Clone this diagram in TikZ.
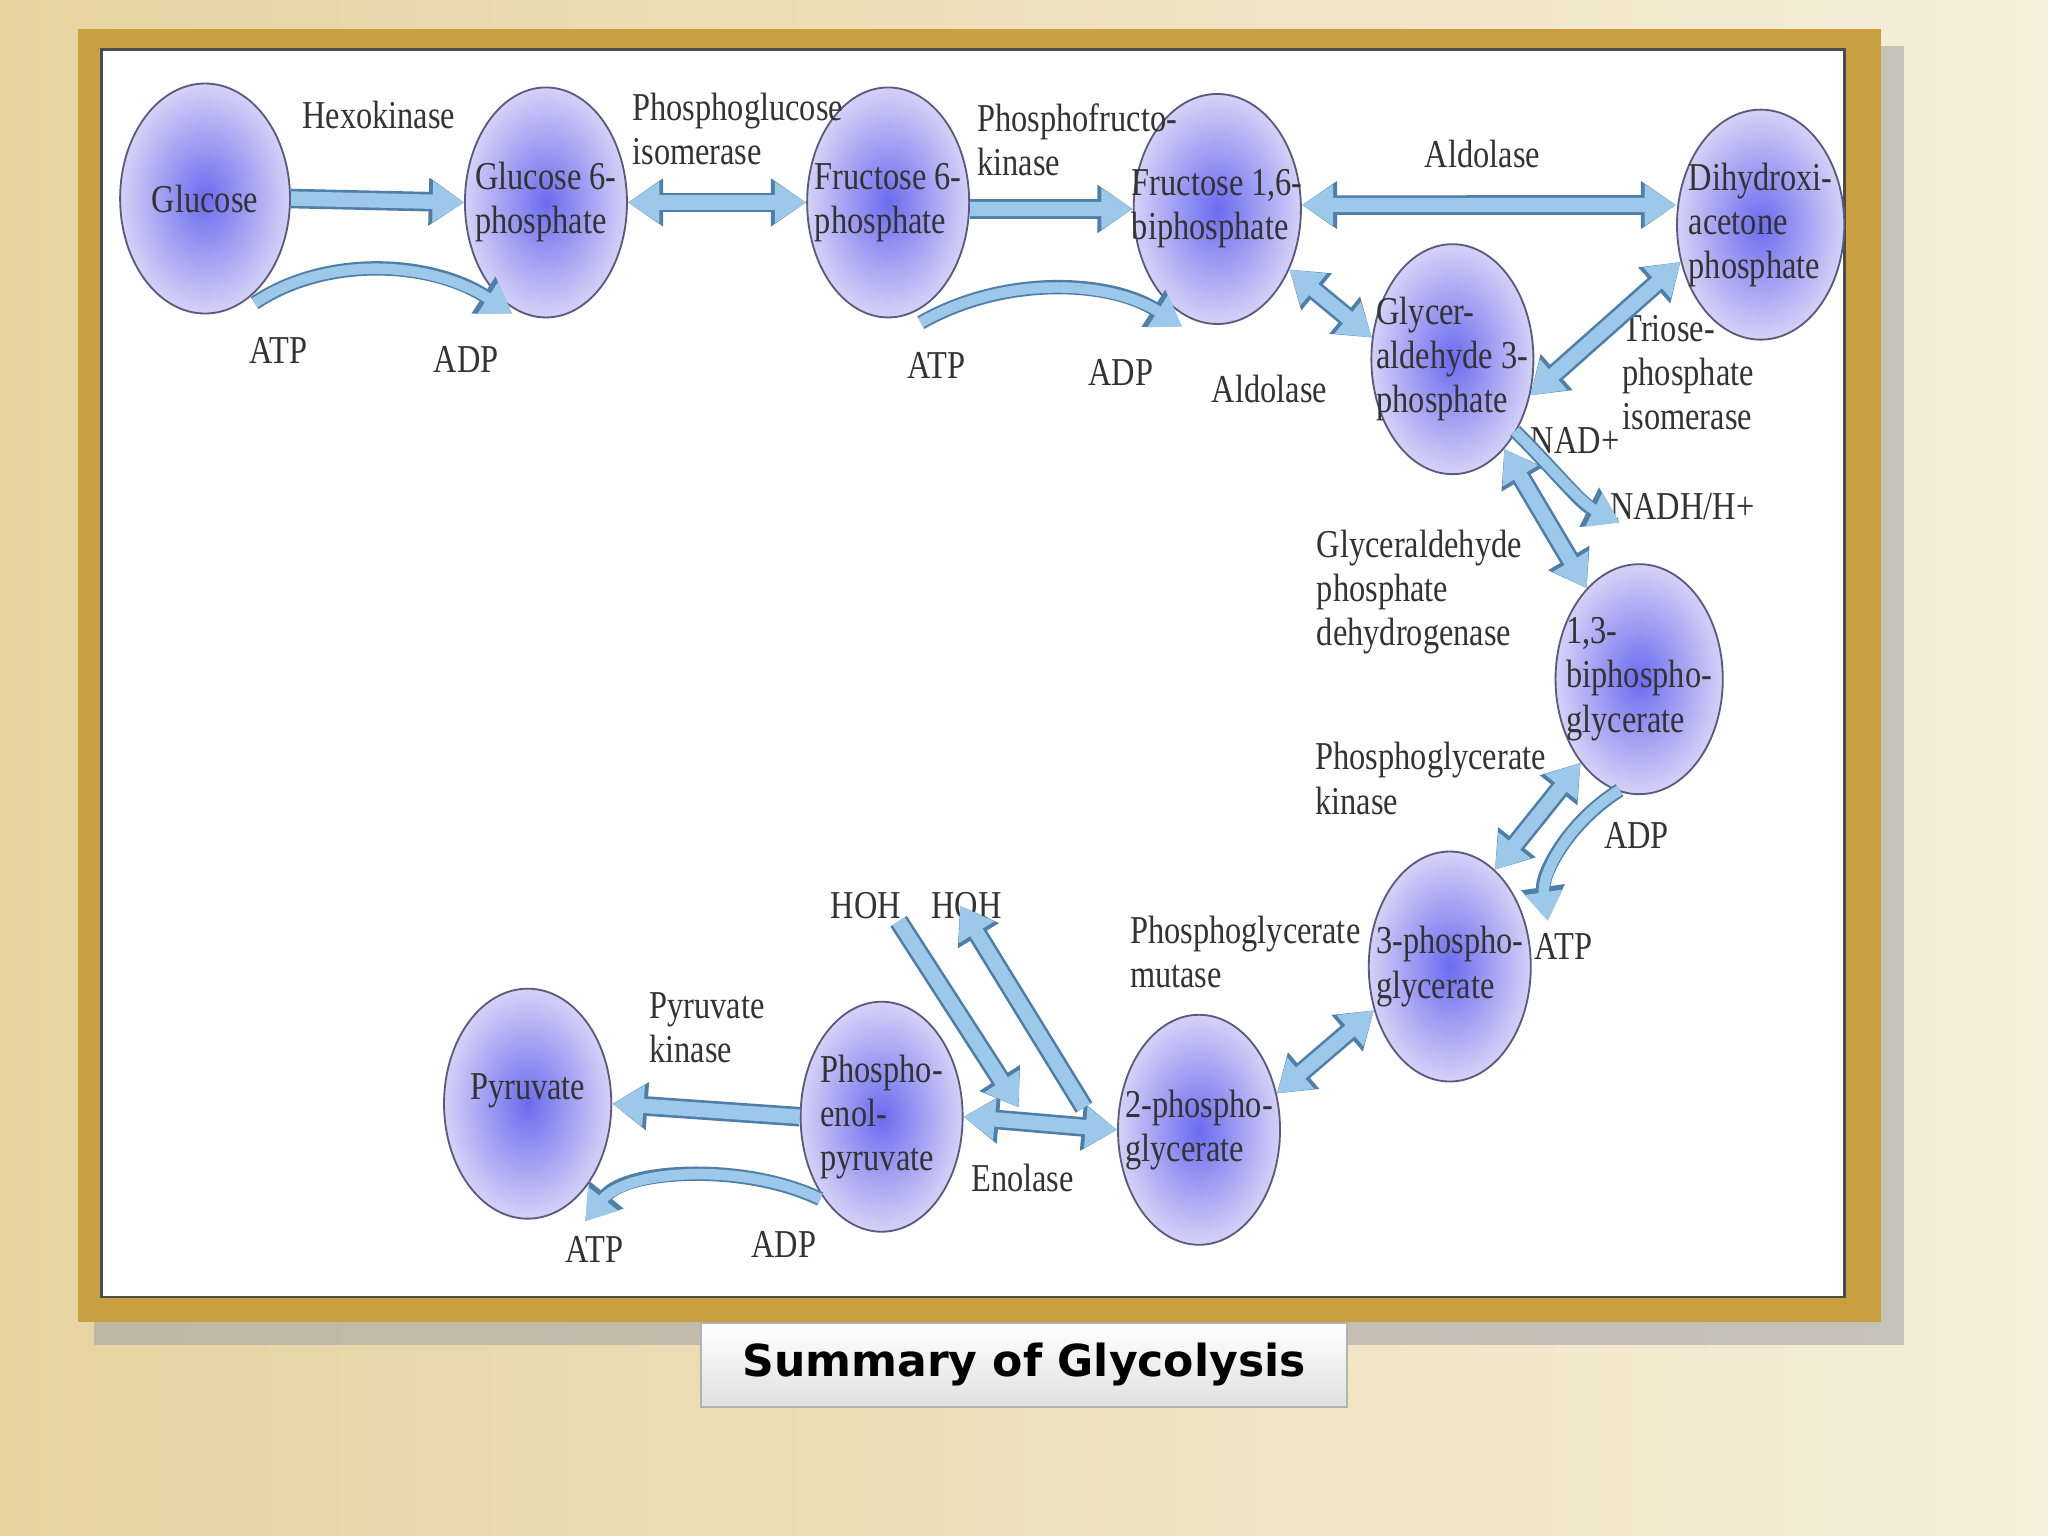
\documentclass[tikz,border=0pt]{standalone}
\usepackage{fontspec}
\setmainfont[FakeStretch=0.82]{Liberation Serif}
\newfontfamily\titlefont{DejaVu Sans}
\usetikzlibrary{shapes.geometric,arrows.meta}
\definecolor{bgA}{HTML}{E6D3A0}
\definecolor{bgB}{HTML}{F6EEDA}
\definecolor{gold}{HTML}{C9A040}
\definecolor{afill}{HTML}{9CC9EA}
\definecolor{aedge}{HTML}{4F7FA8}
\definecolor{nin}{HTML}{6B6BF0}
\definecolor{nout}{HTML}{D4D2F6}
\definecolor{nedge}{HTML}{5A5A80}
\begin{document}
\begin{tikzpicture}[x=0.01cm,y=-0.01cm,
  mol/.style={ellipse,draw=nedge,line width=0.4pt,shading=radial,inner color=nin,outer color=nout,
     minimum width=1.26cm,minimum height=1.76cm,inner sep=0pt},
  mt/.style={font=\fontsize{8.6}{9.6}\selectfont,text=black!80,align=left,inner sep=0pt},
  lab/.style={font=\fontsize{8.6}{9.6}\selectfont,text=black!80,inner sep=1pt,align=left},
  fat/.style={line width=0.11cm,draw=afill,-{Triangle[length=0.24cm,width=0.3cm]},
     preaction={draw=aedge,line width=0.15cm,-{Triangle[length=0.27cm,width=0.35cm]}}},
  fatd/.style={line width=0.11cm,draw=afill,{Triangle[length=0.24cm,width=0.3cm]}-{Triangle[length=0.24cm,width=0.3cm]},
     preaction={draw=aedge,line width=0.15cm,{Triangle[length=0.27cm,width=0.35cm]}-{Triangle[length=0.27cm,width=0.35cm]}}},
  fatc/.style={line width=0.08cm,draw=afill,-{Triangle[length=0.22cm,width=0.28cm]},
     preaction={draw=aedge,line width=0.11cm,-{Triangle[length=0.26cm,width=0.32cm]}}}]
\useasboundingbox (0,0) rectangle (1568,1176);
\shade[left color=bgA,right color=bgB] (0,0) rectangle (1568,1176);
\fill[black!35,opacity=0.6] (72,35) rectangle (1458,1030);
\fill[gold] (60,22) rectangle (1440,1012);
\fill[white] (78,38) rectangle (1412,993);
\draw[black!70,line width=0.6pt] (78,38) rectangle (1412,993);
% title
\shade[top color=white,bottom color=black!12,draw=black!30] (537,1013) rectangle (1031,1077);
\node (title) at (784,1045) {\titlefont\bfseries\fontsize{9.6}{11}\selectfont Summary of Glycolysis};
% molecules
\node[mol,minimum width=1.3cm] (glu) at (157,152) {};
\node[mt] at (glu) {Glucose};
\node[mol,minimum width=1.24cm] (g6p) at (418,155) {};
\node[mt] at (g6p) {Glucose 6-\\phosphate};
\node[mol,minimum width=1.24cm] (f6p) at (680,155) {};
\node[mt] at (f6p) {Fructose 6-\\phosphate};
\node[mol,minimum width=1.28cm] (f16) at (932,160) {};
\node[mt] at (f16) {Fructose 1,6-\\biphosphate};
\node[mol,minimum width=1.28cm] (dhap) at (1348,172) {};
\node[mt] at (dhap) {Dihydroxi-\\acetone\\phosphate};
\node[mol,minimum width=1.24cm] (g3p) at (1112,275) {};
\node[mt] at (g3p) {Glycer-\\aldehyde 3-\\phosphate};
\node[mol,minimum width=1.28cm] (bpg) at (1255,520) {};
\node[mt] at (bpg) {1,3-\\biphospho-\\glycerate};
\node[mol,minimum width=1.24cm] (pg3) at (1110,740) {};
\node[mt] at (pg3) {3-phospho-\\glycerate};
\node[mol,minimum width=1.24cm] (pg2) at (918,865) {};
\node[mt] at (pg2) {2-phospho-\\glycerate};
\node[mol,minimum width=1.24cm] (pep) at (675,855) {};
\node[mt] at (pep) {Phospho-\\enol-\\pyruvate};
\node[mol,minimum width=1.28cm] (pyr) at (404,845) {};
\node[mt] at ([yshift=0.1cm]pyr) {Pyruvate};
% labels
\node[lab] (hex) at (290,88) {Hexokinase};
\node[lab,anchor=west] (pgi) at (480,99) {Phosphoglucose\\isomerase};
\node[lab,anchor=west] (pfk) at (744,107) {Phosphofructo-\\kinase};
\node[lab] (ald1) at (1135,118) {Aldolase};
\node[lab] (ald2) at (972,298) {Aldolase};
\node[lab] (atp1) at (213,268) {ATP};
\node[lab] (adp1) at (357,275) {ADP};
\node[lab] (atp2) at (717,280) {ATP};
\node[lab] (adp2) at (858,285) {ADP};
\node[lab,anchor=west] (tpi) at (1238,285) {Triose-\\phosphate\\isomerase};
\node[lab] (nad) at (1206,337) {NAD+};
\node[lab] (nadh) at (1288,388) {NADH/H+};
\node[lab,anchor=west] (gapdh) at (1004,453) {Glyceraldehyde\\phosphate\\dehydrogenase};
\node[lab,anchor=west] (pgk) at (1003,596) {Phosphoglycerate\\kinase};
\node[lab] (adp3) at (1253,640) {ADP};
\node[lab] (atp3) at (1197,725) {ATP};
\node[lab,anchor=west] (pgm) at (861,729) {Phosphoglycerate\\mutase};
\node[lab] (hoh1) at (663,693) {HOH};
\node[lab] (hoh2) at (740,693) {HOH};
\node[lab,anchor=west] (pk) at (493,787) {Pyruvate\\kinase};
\node[lab] (eno) at (783,902) {Enolase};
\node[lab] (atp4) at (455,957) {ATP};
\node[lab] (adp4) at (600,953) {ADP};
% arrows
\draw[fat] (glu.east) -- (g6p.west);
\draw[fatd] (g6p.east) -- (f6p.west);
\draw[fat] ([yshift=-0.05cm]f6p.east) -- ([yshift=0cm]f16.west);
\draw[fatd] ([yshift=0.03cm]f16.east) -- ([yshift=0.15cm]dhap.west);
\draw[fatd] (f16.-40) -- (g3p.165);
\draw[fatd] (dhap.205) -- (g3p.-25);
\draw[fatd] (g3p.-60) -- (bpg.120);
\draw[fatd] (bpg.-125) -- (pg3.65);
\draw[fatd] (pg3.-150) -- (pg2.25);
\draw[fatd] (pg2.west) -- (pep.east);
\draw[fat] (pep.west) -- (pyr.east);
\draw[fat] ([shift={(25,-2)}]hoh1.south) -- (780,848);
\draw[fat] (830,848) -- ([shift={(-5,-14)}]hoh2.south);
% curved arrows
\coordinate (c1a) at (195,232); \coordinate (c1b) at (392,240);
\draw[fatc] (c1a) .. controls (250,195) and (330,200) .. (c1b);
\coordinate (c2a) at (705,247); \coordinate (c2b) at (905,250);
\draw[fatc] (c2a) .. controls (770,210) and (850,215) .. (c2b);
\coordinate (c3a) at (1160,330); \coordinate (c3b) at (1240,400);
\draw[fatc] (c3a) .. controls (1190,360) and (1210,385) .. (c3b);
\coordinate (c4a) at (1240,605); \coordinate (c4b) at (1185,705);
\draw[fatc] (c4a) .. controls (1200,630) and (1180,670) .. (c4b);
\coordinate (c5a) at (628,918); \coordinate (c5b) at (448,935);
\draw[fatc] (c5a) .. controls (570,890) and (480,895) .. (c5b);
\end{tikzpicture}
\end{document}
